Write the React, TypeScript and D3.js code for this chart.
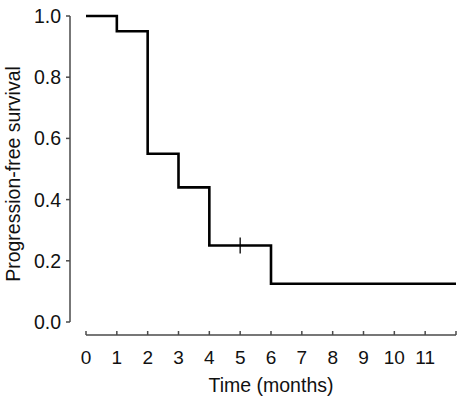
import React from "react";
import * as d3 from "d3";

const times = [0, 1, 2, 3, 4, 6];
const survival = [1.0, 0.95, 0.55, 0.44, 0.25, 0.125];
const endTime = 12;
const censorTimes = [5];
const censorSurvival = [0.25];
const xTicks = [0, 1, 2, 3, 4, 5, 6, 7, 8, 9, 10, 11, 12];
const xTickLabels = ["0", "1", "2", "3", "4", "5", "6", "7", "8", "9", "10", "11", ""];
const yTicks = [0, 0.2, 0.4, 0.6, 0.8, 1.0];
const xTitle = "Time (months)";
const yTitle = "Progression-free survival";

export default function App() {
  const W = 474, H = 399;
  const x = d3.scaleLinear().domain([0, 12]).range([86, 456]);
  const y = d3.scaleLinear().domain([0, 1]).range([322, 16]);
  const pts: [number, number][] = times.map((t, i) => [t, survival[i]]);
  pts.push([endTime, survival[survival.length - 1]]);
  const line = d3
    .line<[number, number]>()
    .x((d) => x(d[0]))
    .y((d) => y(d[1]))
    .curve(d3.curveStepAfter);
  const font = "'Liberation Sans', Arial, sans-serif";
  const axisColor = "#4a4a4a";
  const xAxisY = 335;
  const yAxisX = 70;
  return (
    <svg width={W} height={H} style={{ position: "absolute", left: 0, top: 0, background: "#fff" }}>
      {/* Y axis */}
      <line x1={yAxisX} x2={yAxisX} y1={y(1)} y2={y(0)} stroke={axisColor} strokeWidth={1.5} />
      {yTicks.map((t) => (
        <g key={t}>
          <line x1={yAxisX - 4} x2={yAxisX} y1={y(t)} y2={y(t)} stroke={axisColor} strokeWidth={1.5} />
          <text x={61} y={y(t)} dy="0.36em" textAnchor="end" fontFamily={font} fontSize={19.5} fill="#111">
            {t.toFixed(1)}
          </text>
        </g>
      ))}
      {/* X axis */}
      <line x1={x(0)} x2={x(12)} y1={xAxisY} y2={xAxisY} stroke={axisColor} strokeWidth={1.5} />
      {xTicks.map((t, i) => (
        <g key={t}>
          <line x1={x(t)} x2={x(t)} y1={xAxisY - 4} y2={xAxisY} stroke={axisColor} strokeWidth={1.5} />
          <text x={x(t)} y={364} textAnchor="middle" fontFamily={font} fontSize={19} fill="#111">
            {xTickLabels[i]}
          </text>
        </g>
      ))}
      {/* Titles */}
      <text x={271} y={392} textAnchor="middle" fontFamily={font} fontSize={19.5} fill="#111">
        {xTitle}
      </text>
      <text
        transform={`translate(20, 174) rotate(-90)`}
        textAnchor="middle"
        fontFamily={font}
        fontSize={19.5}
        fill="#111"
      >
        {yTitle}
      </text>
      {/* KM curve */}
      <path d={line(pts) || ""} fill="none" stroke="#000" strokeWidth={2.6} strokeLinejoin="miter" />
      {censorTimes.map((t, i) => (
        <line
          key={t}
          x1={x(t)}
          x2={x(t)}
          y1={y(censorSurvival[i]) - 8}
          y2={y(censorSurvival[i]) + 8}
          stroke="#000"
          strokeWidth={1.3}
        />
      ))}
    </svg>
  );
}
